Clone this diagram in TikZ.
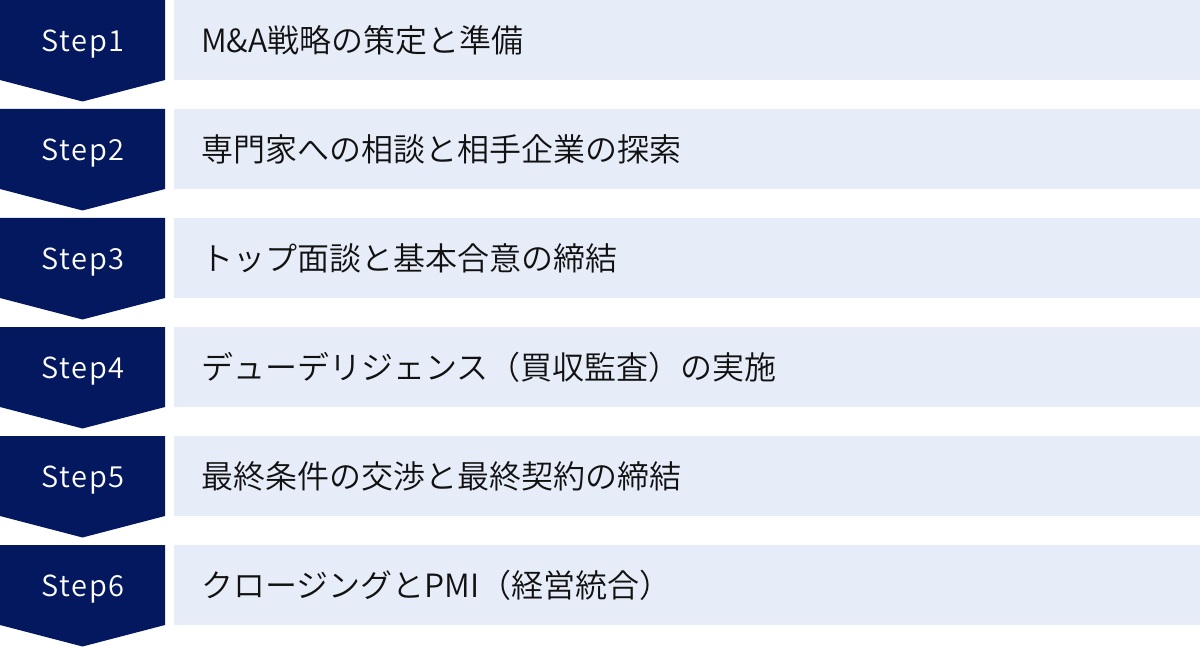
\documentclass[tikz,border=0pt]{standalone}
\usepackage{fontspec}
\setmainfont{Noto Sans CJK JP DemiLight}
\newfontfamily\stepfont[LetterSpace=6]{Noto Sans CJK JP DemiLight}
\definecolor{navy}{HTML}{04185F}
\definecolor{pale}{HTML}{E6ECF8}
\definecolor{ink}{HTML}{111111}
\tikzset{
  chevron/.style={fill=navy, draw=none},
  steplabel/.style={text=white, font=\stepfont\fontsize{29pt}{34pt}\selectfont, anchor=base, inner sep=0pt},
  bar/.style={fill=pale, draw=none, minimum width=1026pt, minimum height=80pt, anchor=north west, inner sep=0pt},
  bartext/.style={text=ink, font=\fontsize{32pt}{38pt}\selectfont, anchor=base west, inner sep=0pt}
}
\begin{document}
\begin{tikzpicture}[x=1pt,y=-1pt]
\useasboundingbox (0,0) rectangle (1200,647);
\foreach \i/\s/\txt in {0/1/{M\&A戦略の策定と準備},
                        1/2/{専門家への相談と相手企業の探索},
                        2/3/{トップ面談と基本合意の締結},
                        3/4/{デューデリジェンス（買収監査）の実施},
                        4/5/{最終条件の交渉と最終契約の締結},
                        5/6/{クロージングとPMI（経営統合）}} {
  \pgfmathsetmacro{\t}{109*\i}
  \fill[chevron] (0,\t) -- (165,\t) -- (165,\t+80) -- (82.5,\t+101.5) -- (0,\t+80) -- cycle;
  \node[steplabel] (step\s) at (83,\t+51.5) {Step\s};
  \node[bar] (bar\s) at (174,\t) {};
  \node[bartext] (text\s) at (201,\t+52.5) {\txt};
}
\end{tikzpicture}
\end{document}
